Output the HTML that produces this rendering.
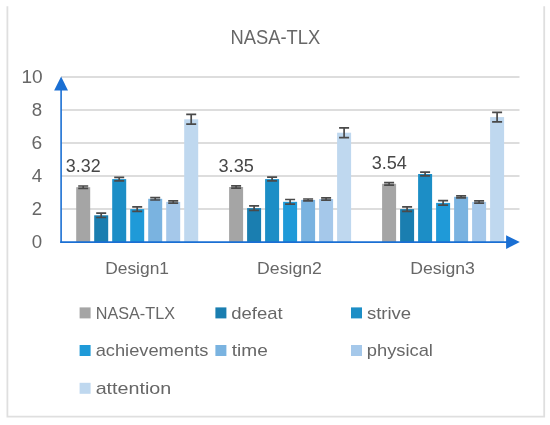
<!DOCTYPE html>
<html><head><meta charset="utf-8"><title>NASA-TLX</title>
<style>html,body{margin:0;padding:0;background:#fff}svg{display:block}text{font-family:"Liberation Sans",sans-serif}</style></head><body>
<svg width="550" height="425" viewBox="0 0 550 425">
<rect width="550" height="425" fill="#fff"/>
<path d="M7.4 6.2V416.6H544.2V6.2" fill="none" stroke="#dfdfdf" stroke-width="1.8"/>
<line x1="61" x2="519.5" y1="209.0" y2="209.0" stroke="#d2d2d2" stroke-width="1.6"/>
<line x1="61" x2="519.5" y1="176.0" y2="176.0" stroke="#d2d2d2" stroke-width="1.6"/>
<line x1="61" x2="519.5" y1="143.0" y2="143.0" stroke="#d2d2d2" stroke-width="1.6"/>
<line x1="61" x2="519.5" y1="110.0" y2="110.0" stroke="#d2d2d2" stroke-width="1.6"/>
<line x1="61" x2="519.5" y1="77.0" y2="77.0" stroke="#d2d2d2" stroke-width="1.6"/>
<rect x="76.2" y="187.2" width="14.0" height="55.0" fill="#a5a5a5"/>
<rect x="94.2" y="215.3" width="14.0" height="26.9" fill="#1a7eb0"/>
<rect x="112.2" y="179.1" width="14.0" height="63.1" fill="#1c8ec6"/>
<rect x="130.2" y="209.1" width="14.0" height="33.1" fill="#1f9ad8"/>
<rect x="148.2" y="198.8" width="14.0" height="43.4" fill="#7ab3e0"/>
<rect x="166.2" y="201.9" width="14.0" height="40.3" fill="#a5c8ea"/>
<rect x="184.2" y="119.3" width="14.0" height="122.9" fill="#bfd8ef"/>
<rect x="229.1" y="187.0" width="14.0" height="55.2" fill="#a5a5a5"/>
<rect x="247.1" y="208.1" width="14.0" height="34.1" fill="#1a7eb0"/>
<rect x="265.1" y="179.1" width="14.0" height="63.1" fill="#1c8ec6"/>
<rect x="283.1" y="201.8" width="14.0" height="40.4" fill="#1f9ad8"/>
<rect x="301.1" y="199.9" width="14.0" height="42.3" fill="#7ab3e0"/>
<rect x="319.1" y="199.0" width="14.0" height="43.2" fill="#a5c8ea"/>
<rect x="337.1" y="132.7" width="14.0" height="109.5" fill="#bfd8ef"/>
<rect x="382.1" y="183.8" width="14.0" height="58.4" fill="#a5a5a5"/>
<rect x="400.1" y="209.1" width="14.0" height="33.1" fill="#1a7eb0"/>
<rect x="418.1" y="174.0" width="14.0" height="68.2" fill="#1c8ec6"/>
<rect x="436.1" y="202.9" width="14.0" height="39.3" fill="#1f9ad8"/>
<rect x="454.1" y="196.8" width="14.0" height="45.4" fill="#7ab3e0"/>
<rect x="472.1" y="201.9" width="14.0" height="40.3" fill="#a5c8ea"/>
<rect x="490.1" y="117.1" width="14.0" height="125.1" fill="#bfd8ef"/>
<path d="M83.2 186.0V188.3M78.2 186.0h10M78.2 188.3h10" fill="none" stroke="#4a4a4a" stroke-width="1.7"/>
<path d="M101.2 213.2V217.5M96.2 213.2h10M96.2 217.5h10" fill="none" stroke="#4a4a4a" stroke-width="1.7"/>
<path d="M119.2 177.4V180.8M114.2 177.4h10M114.2 180.8h10" fill="none" stroke="#4a4a4a" stroke-width="1.7"/>
<path d="M137.2 206.9V211.3M132.2 206.9h10M132.2 211.3h10" fill="none" stroke="#4a4a4a" stroke-width="1.7"/>
<path d="M155.2 197.7V200.0M150.2 197.7h10M150.2 200.0h10" fill="none" stroke="#4a4a4a" stroke-width="1.7"/>
<path d="M173.2 200.8V203.1M168.2 200.8h10M168.2 203.1h10" fill="none" stroke="#4a4a4a" stroke-width="1.7"/>
<path d="M191.2 114.4V124.2M186.2 114.4h10M186.2 124.2h10" fill="none" stroke="#4a4a4a" stroke-width="1.7"/>
<path d="M236.1 185.8V188.2M231.1 185.8h10M231.1 188.2h10" fill="none" stroke="#4a4a4a" stroke-width="1.7"/>
<path d="M254.1 205.9V210.3M249.1 205.9h10M249.1 210.3h10" fill="none" stroke="#4a4a4a" stroke-width="1.7"/>
<path d="M272.1 177.2V180.9M267.1 177.2h10M267.1 180.9h10" fill="none" stroke="#4a4a4a" stroke-width="1.7"/>
<path d="M290.1 199.5V204.2M285.1 199.5h10M285.1 204.2h10" fill="none" stroke="#4a4a4a" stroke-width="1.7"/>
<path d="M308.1 199.0V200.8M303.1 199.0h10M303.1 200.8h10" fill="none" stroke="#4a4a4a" stroke-width="1.7"/>
<path d="M326.1 197.8V200.2M321.1 197.8h10M321.1 200.2h10" fill="none" stroke="#4a4a4a" stroke-width="1.7"/>
<path d="M344.1 127.8V137.6M339.1 127.8h10M339.1 137.6h10" fill="none" stroke="#4a4a4a" stroke-width="1.7"/>
<path d="M389.1 182.6V185.1M384.1 182.6h10M384.1 185.1h10" fill="none" stroke="#4a4a4a" stroke-width="1.7"/>
<path d="M407.1 206.8V211.4M402.1 206.8h10M402.1 211.4h10" fill="none" stroke="#4a4a4a" stroke-width="1.7"/>
<path d="M425.1 172.2V175.8M420.1 172.2h10M420.1 175.8h10" fill="none" stroke="#4a4a4a" stroke-width="1.7"/>
<path d="M443.1 200.6V205.2M438.1 200.6h10M438.1 205.2h10" fill="none" stroke="#4a4a4a" stroke-width="1.7"/>
<path d="M461.1 195.8V197.8M456.1 195.8h10M456.1 197.8h10" fill="none" stroke="#4a4a4a" stroke-width="1.7"/>
<path d="M479.1 200.8V203.1M474.1 200.8h10M474.1 203.1h10" fill="none" stroke="#4a4a4a" stroke-width="1.7"/>
<path d="M497.1 112.3V121.9M492.1 112.3h10M492.1 121.9h10" fill="none" stroke="#4a4a4a" stroke-width="1.7"/>
<line x1="61.1" x2="61.1" y1="242.9" y2="88" stroke="#1a6fd3" stroke-width="1.6"/>
<line x1="60.3" x2="508" y1="242.1" y2="242.1" stroke="#1a6fd3" stroke-width="1.6"/>
<polygon points="61.1,76.6 54.1,90.5 68.0,90.5" fill="#1a6fd3"/>
<polygon points="519.8,242.1 506.1,235.29999999999998 506.1,248.9" fill="#1a6fd3"/>
<text x="21.4" y="82.9" font-size="17.5" fill="#676767" textLength="21.24" lengthAdjust="spacingAndGlyphs">10</text>
<text x="31.75" y="115.9" font-size="17.5" fill="#676767" textLength="10.39" lengthAdjust="spacingAndGlyphs">8</text>
<text x="31.5" y="148.9" font-size="17.5" fill="#676767" textLength="10.69" lengthAdjust="spacingAndGlyphs">6</text>
<text x="31.8" y="181.9" font-size="17.5" fill="#676767" textLength="10.44" lengthAdjust="spacingAndGlyphs">4</text>
<text x="31.7" y="214.85" font-size="17.5" fill="#676767" textLength="10.32" lengthAdjust="spacingAndGlyphs">2</text>
<text x="31.75" y="247.85" font-size="17.5" fill="#676767" textLength="10.39" lengthAdjust="spacingAndGlyphs">0</text>
<text x="230.5" y="43.6" font-size="19.8" fill="#676767" textLength="89.75" lengthAdjust="spacingAndGlyphs">NASA-TLX</text>
<text x="65.85" y="172.2" font-size="17.5" fill="#474747" textLength="34.77" lengthAdjust="spacingAndGlyphs">3.32</text>
<text x="218.55" y="172.2" font-size="17.5" fill="#474747" textLength="35.27" lengthAdjust="spacingAndGlyphs">3.35</text>
<text x="371.65" y="168.7" font-size="17.5" fill="#474747" textLength="35.2" lengthAdjust="spacingAndGlyphs">3.54</text>
<text x="105.2" y="274" font-size="17" fill="#676767" textLength="63.83" lengthAdjust="spacingAndGlyphs">Design1</text>
<text x="257.1" y="274" font-size="17" fill="#676767" textLength="64.73" lengthAdjust="spacingAndGlyphs">Design2</text>
<text x="410.2" y="274" font-size="17" fill="#676767" textLength="64.73" lengthAdjust="spacingAndGlyphs">Design3</text>
<rect x="79.6" y="307.4" width="11" height="11" fill="#a5a5a5"/>
<text x="95.75" y="318.5" font-size="17" fill="#676767" textLength="79.19" lengthAdjust="spacingAndGlyphs">NASA-TLX</text>
<rect x="215.4" y="307.4" width="11" height="11" fill="#1a7eb0"/>
<text x="231.25" y="318.5" font-size="17" fill="#676767" textLength="51.36" lengthAdjust="spacingAndGlyphs">defeat</text>
<rect x="351" y="307.4" width="11" height="11" fill="#1c8ec6"/>
<text x="366.9" y="318.5" font-size="17" fill="#676767" textLength="44.3" lengthAdjust="spacingAndGlyphs">strive</text>
<rect x="79.6" y="345" width="11" height="11" fill="#1f9ad8"/>
<text x="95.65" y="356.1" font-size="17" fill="#676767" textLength="112.72" lengthAdjust="spacingAndGlyphs">achievements</text>
<rect x="215.4" y="345" width="11" height="11" fill="#7ab3e0"/>
<text x="231.75" y="356.1" font-size="17" fill="#676767" textLength="36.03" lengthAdjust="spacingAndGlyphs">time</text>
<rect x="351" y="345" width="11" height="11" fill="#a5c8ea"/>
<text x="366.75" y="356.1" font-size="17" fill="#676767" textLength="66.2" lengthAdjust="spacingAndGlyphs">physical</text>
<rect x="79.6" y="382.8" width="11" height="11" fill="#bfd8ef"/>
<text x="95.65" y="393.9" font-size="17" fill="#676767" textLength="75.66" lengthAdjust="spacingAndGlyphs">attention</text>
</svg></body></html>
